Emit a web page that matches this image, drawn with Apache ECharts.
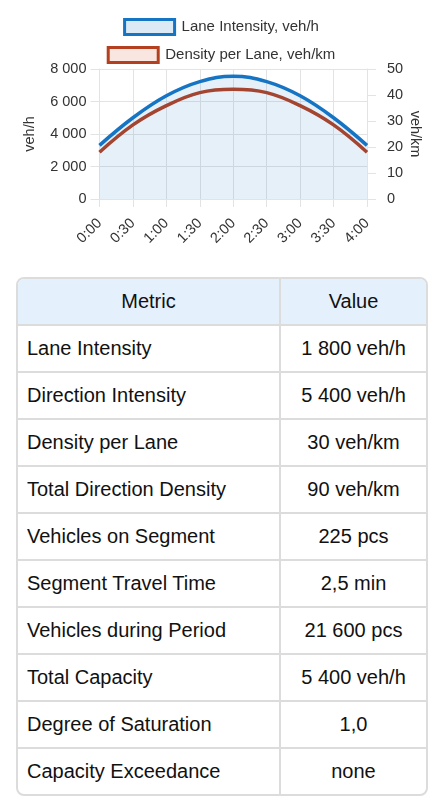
<!DOCTYPE html>
<html>
<head>
<meta charset="utf-8">
<script src="https://cdn.jsdelivr.net/npm/echarts@6/dist/echarts.min.js"></script>
<style>
  html, body { margin: 0; padding: 0; background: #fff; width: 442px; height: 806px; overflow: hidden; font-family: "Liberation Sans", Arial, sans-serif; }
  #chart { position: absolute; left: 0; top: 0; width: 442px; height: 270px; }
  #tbl { position: absolute; left: 16px; top: 277px; width: 408px; border: 2px solid #dcdcdc; border-radius: 8px; overflow: hidden; }
  table { border-collapse: collapse; width: 100%; font-size: 20px; color: #111; }
  td, th { height: 45px; padding: 0; border-bottom: 2px solid #dcdcdc; font-weight: normal; }
  tr:last-child td { border-bottom: none; }
  td.m { padding-left: 9px; text-align: left; width: 252px; border-right: 2px solid #dcdcdc; }
  td.v { text-align: center; }
  th { background: #e4f0fc; text-align: center; }
  th.m { width: 261px; border-right: 2px solid #dcdcdc; }
</style>
</head>
<body>
<div id="chart"></div>
<div id="tbl"></div>
<script>
const times = ['0:00', '0:30', '1:00', '1:30', '2:00', '2:30', '3:00', '3:30', '4:00'];
const laneIntensity = [3300, 5000, 6350, 7220, 7560, 7220, 6350, 5000, 3300];
const densityPerLane = [18, 28.5, 35.9, 40.9, 42.2, 40.9, 35.9, 28.5, 18];
const metrics = ['Lane Intensity', 'Direction Intensity', 'Density per Lane', 'Total Direction Density', 'Vehicles on Segment', 'Segment Travel Time', 'Vehicles during Period', 'Total Capacity', 'Degree of Saturation', 'Capacity Exceedance'];
const values = ['1 800 veh/h', '5 400 veh/h', '30 veh/km', '90 veh/km', '225 pcs', '2,5 min', '21 600 pcs', '5 400 veh/h', '1,0', 'none'];

const blue = '#1574c4';
const red = '#b5401f';
const gridCol = '#e3e3e3';
const txt = '#333';
const fnt = '"Liberation Sans", Arial, sans-serif';

function fmt(v) { return String(v).replace(/\B(?=(\d{3})+(?!\d))/g, ' '); }

const chart = echarts.init(document.getElementById('chart'));
chart.setOption({
  animation: false,
  textStyle: { fontFamily: fnt },
  legend: [
    { data: ['Lane Intensity, veh/h'], left: 'center', top: 13, itemWidth: 50, itemHeight: 15, itemGap: 10,
      icon: 'rect', itemStyle: { borderWidth: 3 },
      textStyle: { fontSize: 15, color: txt, fontFamily: fnt, padding: [0, 0, 0, 2] }, selectedMode: false },
    { data: ['Density per Lane, veh/km'], left: 'center', top: 41, itemWidth: 50, itemHeight: 15, itemGap: 10,
      icon: 'rect', itemStyle: { borderWidth: 3 },
      textStyle: { fontSize: 15, color: txt, fontFamily: fnt, padding: [0, 0, 0, 2] }, selectedMode: false }
  ],
  grid: { left: 99.5, right: 75, top: 69, height: 130 },
  xAxis: {
    type: 'category', data: times, boundaryGap: false,
    axisLine: { lineStyle: { color: gridCol } },
    axisTick: { show: true, length: 8, lineStyle: { color: gridCol } },
    splitLine: { show: true, lineStyle: { color: gridCol } },
    axisLabel: { rotate: 45, fontSize: 14.5, color: txt, margin: 22, fontFamily: fnt }
  },
  yAxis: [
    { type: 'value', min: 0, max: 8000, interval: 2000, position: 'left',
      name: 'veh/h', nameLocation: 'middle', nameRotate: 90, nameGap: 62, nameMoveOverlap: false,
      nameTextStyle: { fontSize: 14.5, color: txt, fontFamily: fnt },
      axisLine: { show: true, lineStyle: { color: gridCol } },
      axisTick: { show: true, length: 9, lineStyle: { color: gridCol } },
      splitLine: { lineStyle: { color: gridCol } },
      axisLabel: { fontSize: 14.5, color: txt, margin: 13, formatter: fmt, fontFamily: fnt } },
    { type: 'value', min: 0, max: 50, interval: 10, position: 'right',
      name: 'veh/km', nameLocation: 'middle', nameRotate: -90, nameGap: 40, nameMoveOverlap: false,
      nameTextStyle: { fontSize: 14.5, color: txt, fontFamily: fnt },
      axisLine: { show: true, lineStyle: { color: gridCol } },
      axisTick: { show: true, length: 9, lineStyle: { color: gridCol } },
      splitLine: { show: false },
      axisLabel: { fontSize: 14.5, color: txt, margin: 20, fontFamily: fnt } }
  ],
  series: [
    { name: 'Lane Intensity, veh/h', type: 'line', yAxisIndex: 0, data: laneIntensity, smooth: 0.4,
      showSymbol: false, lineStyle: { color: blue, width: 3.5 },
      itemStyle: { color: 'rgba(21,116,196,0.15)', borderColor: blue, borderWidth: 3 },
      areaStyle: { color: 'rgba(21,116,196,0.15)', origin: 'start' }, z: 3 },
    { name: 'Density per Lane, veh/km', type: 'line', yAxisIndex: 1, data: densityPerLane, smooth: 0.4,
      showSymbol: false, lineStyle: { color: red, width: 3.5 },
      itemStyle: { color: 'rgba(220,90,50,0.15)', borderColor: red, borderWidth: 3 }, z: 2 }
  ]
});

let html = '<table><tr><th class="m">Metric</th><th>Value</th></tr>';
for (let i = 0; i < metrics.length; i++) {
  html += '<tr><td class="m">' + metrics[i] + '</td><td class="v">' + values[i] + '</td></tr>';
}
html += '</table>';
document.getElementById('tbl').innerHTML = html;
</script>
</body>
</html>
